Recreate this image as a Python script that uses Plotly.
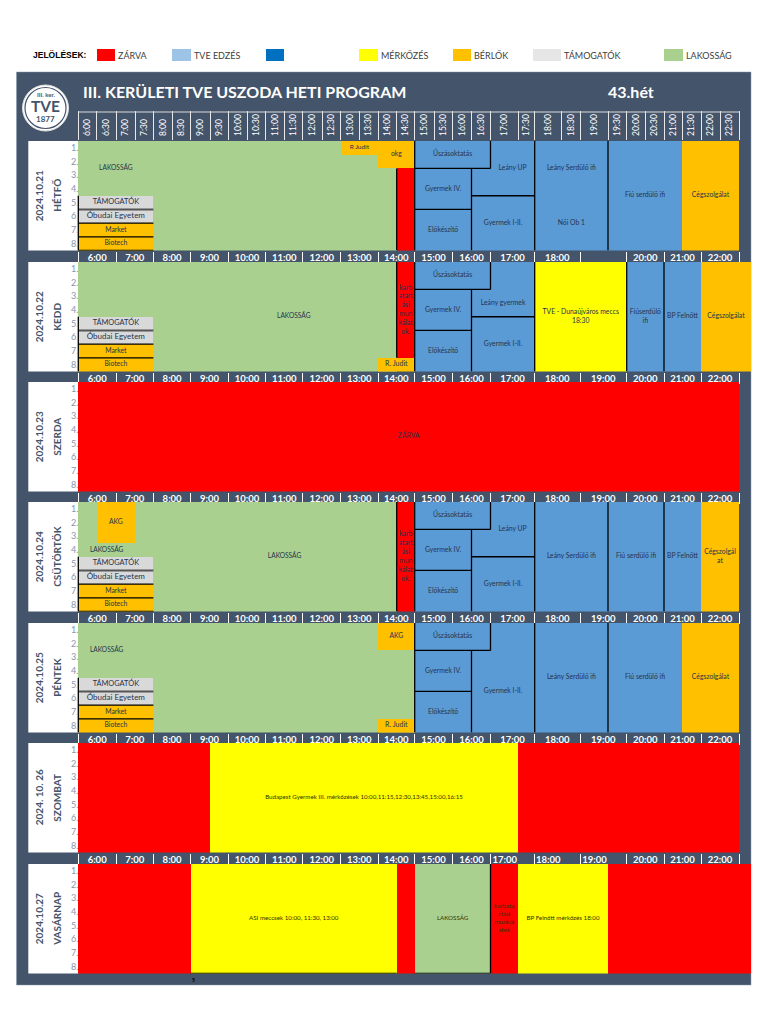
import numpy as np
import plotly.graph_objects as go

# ---------------- data ----------------
DAYS = ["HÉTFŐ", "KEDD", "SZERDA", "CSÜTÖRTÖK", "PÉNTEK", "SZOMBAT", "VASÁRNAP"]
DATES = ["2024.10.21", "2024.10.22", "2024.10.23", "2024.10.24", "2024.10.25", "2024. 10. 26", "2024.10.27"]
LANE_LABELS = ["1.", "2.", "3.", "4.", "5.", "6.", "7.", "8."]
TITLE = "III. KERÜLETI TVE USZODA HETI PROGRAM"
WEEK = "43.hét"
LEGEND_LABELS = ["ZÁRVA", "TVE EDZÉS", "", "MÉRKŐZÉS", "BÉRLŐK", "TÁMOGATÓK", "LAKOSSÁG"]
HALF_HOURS = [6 + i * 0.5 for i in range(34)]
HOURS = list(range(6, 23))

KARB = "karb<br>atart<br>ási<br>mun<br>kálat<br>ok."

# (start hour, end hour, first lane, last lane, kind, label)
MORNING = [
    (6, 8, 5, 5, "support", "TÁMOGATÓK"),
    (6, 8, 6, 6, "support", "Óbudai Egyetem"),
    (6, 8, 7, 7, "rent", "Market"),
    (6, 8, 8, 8, "rent", "Biotech"),
]
MON = MORNING + [
    (6, 8, 1, 4, "public", "LAKOSSÁG"),
    (8, 14.5, 1, 8, "public", ""),
    (13, 14, 1, 1, "rent", "R Judit"),
    (14, 15, 1, 2, "rent", "okg"),
    (14.5, 15, 3, 8, "closed", ""),
    (15, 17, 1, 2, "club", "Úszásoktatás"),
    (15, 16.5, 3, 5, "club", "Gyermek IV."),
    (15, 16.5, 6, 8, "club", "Előkészítő"),
    (17, 18, 1, 4, "club", "Leány UP"),
    (16.5, 17, 3, 4, "club", ""),
    (16.5, 18, 5, 8, "club", "Gyermek I-II."),
    (18, 19.5, 1, 4, "club", "Leány Serdülő ifi"),
    (18, 19.5, 5, 8, "club", "Női Ob 1"),
    (19.5, 21.5, 1, 8, "club", "Fiú serdülő ifi"),
    (21.5, 23, 1, 8, "rent", "Cégszolgálat"),
]
TUE = MORNING + [
    (6, 9, 1, 4, "public", ""),
    (8, 9, 5, 8, "public", ""),
    (9, 14.5, 1, 8, "public", "LAKOSSÁG"),
    (14.5, 15, 1, 7, "closed", KARB),
    (14, 15, 8, 8, "rent", "R. Judit"),
    (15, 17, 1, 2, "club", "Úszásoktatás"),
    (15, 16.5, 3, 5, "club", "Gyermek IV."),
    (15, 16.5, 6, 8, "club", "Előkészítő"),
    (17, 18, 1, 2, "club", ""),
    (16.5, 18, 3, 4, "club", "Leány gyermek"),
    (16.5, 18, 5, 8, "club", "Gyermek I-II."),
    (18, 20, 1, 8, "match", "TVE - Dunaújváros meccs<br>18:30"),
    (20, 21, 1, 8, "club", "Fiúserdülő<br>ifi"),
    (21, 22, 1, 8, "club", "BP Felnőtt"),
    (22, 23.5, 1, 8, "rent", "Cégszolgálat"),
]
WED = [(6, 23, 1, 8, "closed", "ZÁRVA")]
THU = MORNING + [
    (6, 7.5, 1, 3, "public", ""),
    (6, 7.5, 4, 4, "public", "LAKOSSÁG"),
    (7.5, 8.5, 1, 4, "public", ""),
    (8, 8.5, 5, 8, "public", ""),
    (8.5, 14.5, 1, 8, "public", "LAKOSSÁG"),
    (6.5, 7.5, 1, 3, "rent", "AKG"),
    (14.5, 15, 1, 8, "closed", KARB),
    (15, 17, 1, 2, "club", "Úszásoktatás"),
    (15, 16.5, 3, 5, "club", "Gyermek IV."),
    (15, 16.5, 6, 8, "club", "Előkészítő"),
    (17, 18, 1, 4, "club", "Leány UP"),
    (16.5, 17, 3, 4, "club", ""),
    (16.5, 18, 5, 8, "club", "Gyermek I-II."),
    (18, 19.5, 1, 8, "club", "Leány Serdülő ifi"),
    (19.5, 21, 1, 8, "club", "Fiú serdülő ifi"),
    (21, 22, 1, 8, "club", "BP Felnőtt"),
    (22, 23, 1, 8, "rent", "Cégszolgál<br>at"),
]
FRI = MORNING + [
    (6, 7.5, 1, 4, "public", "LAKOSSÁG"),
    (7.5, 8, 1, 4, "public", ""),
    (8, 15, 1, 8, "public", ""),
    (14, 15, 1, 2, "rent", "AKG"),
    (14, 15, 8, 8, "rent", "R. Judit"),
    (15, 17, 1, 2, "club", "Úszásoktatás"),
    (15, 16.5, 3, 5, "club", "Gyermek IV."),
    (15, 16.5, 6, 8, "club", "Előkészítő"),
    (17, 18, 1, 2, "club", ""),
    (16.5, 18, 3, 8, "club", "Gyermek I-II."),
    (18, 19.5, 1, 8, "club", "Leány Serdülő ifi"),
    (19.5, 21.5, 1, 8, "club", "Fiú serdülő ifi"),
    (21.5, 23, 1, 8, "rent", "Cégszolgálat"),
]
SAT = [
    (6, 9.5, 1, 8, "closed", ""),
    (9.5, 17.5, 1, 8, "match", "Budapest Gyermek III. mérkőzések 10:00,11:15,12:30,13:45,15:00,16:15"),
    (17.5, 23, 1, 8, "closed", ""),
]
SUN = [
    (6, 9, 1, 8, "closed", ""),
    (9, 14.5, 1, 8, "match", "ASI meccsek 10:00, 11:30, 13:00"),
    (14.5, 15, 1, 8, "closed", ""),
    (15, 17, 1, 8, "public", "LAKOSSÁG"),
    (17, 17.5, 1, 8, "closed", "karbata<br>rtási<br>munkál<br>atok"),
    (17.5, 19.5, 1, 8, "match", "BP Felnőtt mérkőzés 18:00"),
    (19.5, 23.5, 1, 8, "closed", ""),
]
SCHEDULE = [MON, TUE, WED, THU, FRI, SAT, SUN]

# black dividers: (hour0, lane edge0, hour1, lane edge1)
MORNING_LINES = [(6, 4.5, 6, 8.5), (6, 6.5, 8, 6.5), (6, 7.5, 8, 7.5)]
POOL_LINES = [
    (15, 0.5, 15, 8.5), (15, 2.5, 17, 2.5), (17, 0.5, 17, 2.5), (15, 5.5, 16.5, 5.5),
    (16.5, 2.5, 16.5, 8.5), (18, 0.5, 18, 8.5),
]
LANE4 = [(16.5, 4.5, 18, 4.5)]
LINES = [
    MORNING_LINES + POOL_LINES + LANE4 + [(14.5, 2.5, 14.5, 8.5), (19.5, 0.5, 19.5, 8.5), (6, 8.5, 8, 8.5)],
    MORNING_LINES + POOL_LINES + LANE4 + [(14.5, 0.5, 14.5, 7.5), (20, 0.5, 20, 8.5), (21, 0.5, 21, 8.5)],
    [],
    MORNING_LINES + POOL_LINES + LANE4 + [(14.5, 0.5, 14.5, 8.5), (19.5, 0.5, 19.5, 8.5), (21, 0.5, 21, 8.5), (6, 8.5, 8, 8.5)],
    MORNING_LINES + POOL_LINES + [(19.5, 0.5, 19.5, 8.5)],
    [],
    [(17, 0.5, 17, 8.5), (15, 8.5, 17, 8.5), (9, 8.5, 14.5, 8.5)],
]
# grey bar between the two "support" lanes, on the days that have them
GREY_LINE_DAYS = [0, 1, 3, 4]
# hour labels under each day; Monday's band has no 19:00, Sunday has no band
BAND_HOURS = [[h for h in HOURS if h != 19], HOURS, HOURS, HOURS, HOURS, HOURS, []]

# ---------------- layout / style ----------------
W, H = 768, 1024
COLORS = dict(closed="#ff0000", club="#5b9bd5", match="#ffff00", rent="#ffc000",
              support="#d9d9d9", public="#a9d08e")
LEGEND_COLORS = ["#ff0000", "#9dc3e6", "#0070c0", "#ffff00", "#ffc000", "#e7e6e6", "#a9d08e"]
LEGEND_X = [(97, 115), (172, 191), (266, 284), (359, 378), (453, 471), (533, 561), (664, 683)]
DARK = "#44546a"
FONT = "Lato"
DAY_TOPS = [141, 262, 382, 502, 623, 743, 864]
DAY_H = 109.5
# the printed grid is not uniform: page x of each half-hour column edge
EDGE_HOURS = [6 + i * 0.5 for i in range(36)]
EDGE_PX = [78.3, 96.8, 116, 135, 153.4, 172.4, 190.8, 210, 228.3, 247.2, 265.7, 284.3, 302.8,
           322, 340.7, 359.3, 378, 396.7, 414.7, 434, 452.5, 471.5, 490.5, 518, 534.7, 561.7,
           580, 608, 626.7, 645, 664, 682, 701, 720, 739, 751]
SAT_LABEL_AT = {17: 17.26, 18: 18.25, 19: 19.26}
SIZES = {"Óbudai Egyetem": 8, "TÁMOGATÓK": 7.4, "LAKOSSÁG": 6.6, "R. Judit": 7, "R Judit": 6.5}


def sx(t):
    return float(np.interp(t, EDGE_HOURS, EDGE_PX))


def py(p):
    return 1 - p / H


def note(px, pyy, text, size, color, weight="normal", xanchor="center", angle=0, family=FONT):
    return dict(x=px / W, y=py(pyy), xref="paper", yref="paper", xanchor=xanchor, yanchor="middle",
                text=text, textangle=angle, showarrow=False,
                font=dict(family=family, size=size, color=color, weight=weight))


fig = go.Figure()
shapes = [dict(type="rect", xref="paper", yref="paper", x0=16.5 / W, x1=751 / W, y0=py(985), y1=py(72),
               fillcolor=DARK, line=dict(color="#8496b0", width=0.5), layer="below")]
annos = []

order = ["public", "closed", "club", "support", "rent", "match"]
for d, blocks in enumerate(SCHEDULE):
    n = "" if d == 0 else str(d + 1)
    xa, ya = "x" + n, "y" + n
    top = DAY_TOPS[d]
    for kind in order:
        sel = [b for b in blocks if b[4] == kind]
        if sel:
            fig.add_trace(go.Bar(
                orientation="h", xaxis=xa, yaxis=ya, showlegend=False, hoverinfo="skip",
                y=[(b[2] + b[3]) / 2 for b in sel],
                base=[sx(b[0]) for b in sel],
                x=[sx(b[1]) - sx(b[0]) for b in sel],
                width=[b[3] - b[2] + 1 for b in sel],
                marker=dict(color=COLORS[kind], line=dict(width=0)),
            ))
    if d in GREY_LINE_DAYS:
        fig.add_trace(go.Scatter(x=[sx(6), sx(8)], y=[5.5, 5.5], mode="lines", xaxis=xa, yaxis=ya, showlegend=False,
                                 hoverinfo="skip", line=dict(color="#555555", width=2)))
    if LINES[d]:
        lx, ly = [], []
        for a, b, c, e in LINES[d]:
            lx += [sx(a), sx(c), None]
            ly += [b, e, None]
        fig.add_trace(go.Scatter(x=lx, y=ly, mode="lines", xaxis=xa, yaxis=ya, showlegend=False,
                                 hoverinfo="skip", line=dict(color="#000000", width=1.3)))
    lab = [b for b in blocks if b[5]]
    squeezed = d >= 5
    fig.add_trace(go.Scatter(
        x=[(sx(b[0]) + sx(b[1])) / 2 for b in lab],
        y=[(b[2] + b[3]) / 2 for b in lab],
        text=[b[5] for b in lab], mode="text", xaxis=xa, yaxis=ya, showlegend=False, hoverinfo="skip",
        textposition="middle center",
        textfont=dict(family=FONT, size=[6.2 if squeezed else SIZES.get(b[5], 6.8) for b in lab],
                      color="#333300" if squeezed else "#26344d"),
    ))
    # white label panel + rotated date / day
    shapes.append(dict(type="rect", xref="paper", yref="paper", x0=28.3 / W, x1=78.3 / W,
                       y0=py(top + DAY_H), y1=py(top), fillcolor="white", line=dict(width=0), layer="below"))
    annos.append(note(38.5, top + DAY_H / 2, DATES[d], 10, DARK, "bold", angle=-90))
    annos.append(note(57, top + DAY_H / 2, DAYS[d], 10, DARK, "bold", angle=-90))
    # axes
    band = BAND_HOURS[d]
    labels_at = [sx(SAT_LABEL_AT[h]) if d == 5 and h in SAT_LABEL_AT else (sx(h) + sx(h + 1)) / 2 for h in band]
    xaxis = dict(domain=[0, 1], range=[0, W], anchor=ya, showgrid=False, zeroline=False, showline=False,
                 tickmode="array", tickvals=labels_at, ticktext=[f"{h}:00" for h in band], ticks="",
                 tickfont=dict(family=FONT, size=9.5, color="white", weight="bold"), ticklabelstandoff=0,
                 minor=dict(tickmode="array", tickvals=[sx(h) for h in HOURS + [23]] if band else [],
                            ticks="outside", ticklen=11.5, tickcolor="white", tickwidth=1.2, showgrid=False))
    yaxis = dict(domain=[py(top + DAY_H), py(top)], range=[8.5, 0.5], anchor="free", position=78.3 / W,
                 showgrid=False, zeroline=False, showline=False, tickmode="array",
                 tickvals=list(range(1, 9)), ticktext=LANE_LABELS, ticks="",
                 tickfont=dict(family=FONT, size=9, color="#8497b0"))
    fig.update_layout({"xaxis" + n: xaxis, "yaxis" + n: yaxis})

# half-hour header above Monday
fig.add_trace(go.Scatter(x=[sx(6)], y=[1], xaxis="x8", yaxis="y", mode="markers", marker=dict(opacity=0),
                         showlegend=False, hoverinfo="skip"))
fig.update_layout(xaxis8=dict(
    domain=[0, 1], range=[0, W], anchor="y", overlaying="x", side="top", showgrid=False, zeroline=False,
    showline=False, tickmode="array", tickvals=[(sx(t) + sx(t + 0.5)) / 2 for t in HALF_HOURS],
    ticktext=[f"{int(t)}:{'30' if t % 1 else '00'}" for t in HALF_HOURS], ticks="", tickangle=-90,
    tickfont=dict(family=FONT, size=8.5, color="white"), ticklabelstandoff=4,
    minor=dict(tickmode="array", tickvals=[sx(t) for t in HALF_HOURS] + [sx(23)], ticks="outside",
               ticklen=29, tickcolor="#e8e8e8", tickwidth=1.2, showgrid=False)))
shapes.append(dict(type="line", xref="paper", yref="paper", x0=78.3 / W, x1=739 / W, y0=py(112), y1=py(112),
                   line=dict(color="#d9d9d9", width=1)))

# legend row
annos.append(note(31, 55, "JELÖLÉSEK:", 8.5, "#000000", "bold", xanchor="left", family="Liberation Sans"))
for lbl, col, (a, b) in zip(LEGEND_LABELS, LEGEND_COLORS, LEGEND_X):
    shapes.append(dict(type="rect", xref="paper", yref="paper", x0=a / W, x1=b / W, y0=py(61), y1=py(49),
                       fillcolor=col, line=dict(width=0)))
    if lbl:
        annos.append(note(b + 1, 55, lbl, 9, "#404040", xanchor="left"))

# title
annos.append(note(81, 91.5, TITLE, 16, "white", "bold", xanchor="left"))
annos.append(note(606, 91.5, WEEK, 16, "white", "bold", xanchor="left"))
annos.append(note(193.5, 980, "5", 5, "black", "bold"))

# logo
R = 23
shapes.append(dict(type="circle", xref="paper", yref="paper", x0=(45.5 - R) / W, x1=(45.5 + R) / W,
                   y0=py(108 + R), y1=py(108 - R), fillcolor="white", line=dict(color="#dddddd", width=1)))
shapes.append(dict(type="circle", xref="paper", yref="paper", x0=(45.5 - R + 2.5) / W, x1=(45.5 + R - 2.5) / W,
                   y0=py(108 + R - 2.5), y1=py(108 - R + 2.5), fillcolor="white", line=dict(color=DARK, width=1.2)))
for yy, txt, sz in ((94.5, "III. ker.", 6), (106, "TVE", 15.5), (119, "1877", 8)):
    annos.append(note(45.5, yy, txt, sz, DARK, "bold"))

fig.update_layout(width=W, height=H, margin=dict(l=0, r=0, t=0, b=0, pad=0), autosize=False,
                  paper_bgcolor="white", plot_bgcolor="rgba(0,0,0,0)", barmode="overlay", bargap=0,
                  shapes=shapes, annotations=annos, showlegend=False, font=dict(family=FONT))
fig.write_html("out.html", config=dict(displayModeBar=False),
               post_script="document.body.style.margin='0';")
